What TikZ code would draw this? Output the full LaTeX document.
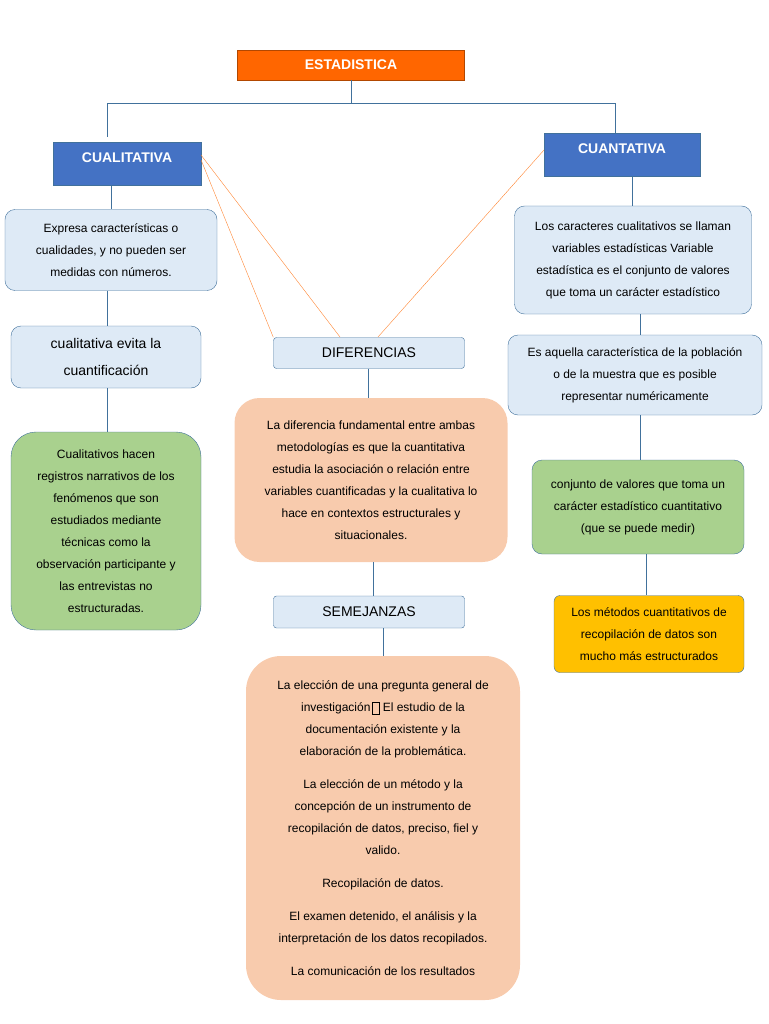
\documentclass[tikz,border=0pt]{standalone}
\usepackage{fontspec}
\setmainfont{Liberation Sans}
\usepackage{xcolor}
\definecolor{naranja}{HTML}{FF6600}
\definecolor{azul}{HTML}{4472C4}
\definecolor{celeste}{HTML}{DEEAF6}
\definecolor{verde}{HTML}{A9D18E}
\definecolor{durazno}{HTML}{F8CBAD}
\definecolor{amarillo}{HTML}{FFC000}
\definecolor{borde}{HTML}{41719C}
\tikzstyle{titulo}=[rectangle,draw=borde,fill=azul,text=white,font=\fontsize{14}{16}\selectfont\bfseries,inner sep=0pt]
\tikzstyle{caja}=[rectangle,rounded corners=10pt,draw=borde,fill=celeste,align=center,inner sep=0pt,font=\fontsize{12}{22}\selectfont]
\tikzstyle{conector}=[draw=borde,thin]

\begin{document}
\begin{tikzpicture}[x=1pt,y=-1pt]
  \useasboundingbox (0,0) rectangle (768,1024);
  \node at (351,65) [titulo,fill=naranja,draw=naranja!70!black,minimum width=227pt,minimum height=30pt] (Estadistica) {ESTADISTICA};
  \node at (127,158) [titulo,minimum width=148pt,minimum height=43pt,yshift=-6pt] (Cualitativa) {\raisebox{12pt}{CUALITATIVA}};
  \node at (622,155) [titulo,minimum width=156pt,minimum height=43pt] (Cuantativa) {\raisebox{12pt}{CUANTATIVA}};
  \node at (111,250) [caja,minimum width=212pt,minimum height=81pt] (Expresa) {Expresa características o\\cualidades, y no pueden ser\\medidas con números.};
  \node at (106,357) [caja,font=\fontsize{14}{27}\selectfont,minimum width=190pt,minimum height=62pt] (Evita) {cualitativa evita la\\cuantificación};
  \node at (106,531) [caja,fill=verde,rounded corners=25pt,minimum width=190pt,minimum height=198pt] (Hacen) {Cualitativos hacen\\registros narrativos de los\\fenómenos que son\\estudiados mediante\\técnicas como la\\observación participante y\\las entrevistas no\\estructuradas.};
  \node at (633,260) [caja,minimum width=237pt,minimum height=108pt] (Caracteres) {Los caracteres cualitativos se llaman\\variables estadísticas Variable\\estadística es el conjunto de valores\\que toma un carácter estadístico};
  \node at (635,375) [caja,minimum width=254pt,minimum height=80pt] (Aquella) {Es aquella característica de la población\\o de la muestra que es posible\\representar numéricamente};
  \node at (638,507) [caja,fill=verde,minimum width=212pt,minimum height=94pt] (Conjunto) {conjunto de valores que toma un\\carácter estadístico cuantitativo\\(que se puede medir)};
  \node at (649,634) [caja,fill=amarillo,rounded corners=6pt,minimum width=190pt,minimum height=77pt] (Metodos) {Los métodos cuantitativos de\\recopilación de datos son\\mucho más estructurados};
  \node at (369,353) [caja,rounded corners=3pt,font=\fontsize{14}{16}\selectfont,minimum width=191pt,minimum height=31pt] (Diferencias) {DIFERENCIAS};
  \node at (371,480) [caja,fill=durazno,draw=none,rounded corners=25pt,minimum width=273pt,minimum height=164pt] (Diferencia) {La diferencia fundamental entre ambas\\metodologías es que la cuantitativa\\estudia la asociación o relación entre\\variables cuantificadas y la cualitativa lo\\hace en contextos estructurales y\\situacionales.};
  \node at (369,612) [caja,rounded corners=3pt,font=\fontsize{14}{16}\selectfont,minimum width=191pt,minimum height=32pt] (Semejanzas) {SEMEJANZAS};
  \node at (383,828) [caja,fill=durazno,draw=none,rounded corners=35pt,minimum width=274pt,minimum height=344pt] (Eleccion) {La elección de una pregunta general de\\investigación\,\framebox[7pt]{\rule{0pt}{6pt}} El estudio de la\\documentación existente y la\\elaboración de la problemática.\\[11pt]La elección de un método y la\\concepción de un instrumento de\\recopilación de datos, preciso, fiel y\\valido.\\[11pt]Recopilación de datos.\\[11pt]El examen detenido, el análisis y la\\interpretación de los datos recopilados.\\[11pt]La comunicación de los resultados};
  \draw [conector] (Estadistica.south) -- ++(0,23) -| (107,137);
  \draw [conector] (Estadistica.south) ++(0,23) -| (Cuantativa.north -| 615,0);
  \draw [draw=naranja!80!white] (Cualitativa.north east) ++(0,18) -- (Diferencias.north west) ++(66,0);
  \draw [draw=naranja!80!white] (201,155) -- (340,337);
  \draw [draw=naranja!80!white] (544,150) -- (378,337);
  \draw [conector] (Cualitativa.south -| Expresa.north) -- (Expresa.north);
  \draw [conector] (Expresa.south -| 107,0) -- (Evita.north -| 107,0);
  \draw [conector] (Evita.south -| 107,0) -- (Hacen.north -| 107,0);
  \draw [conector] (Cuantativa.south -| 632,0) -- (Caracteres.north -| 632,0);
  \draw [conector] (Caracteres.south -| 640,0) -- (Aquella.north -| 640,0);
  \draw [conector] (Aquella.south -| 640,0) -- (Conjunto.north -| 640,0);
  \draw [conector] (Conjunto.south -| 646,0) -- (Metodos.north -| 646,0);
  \draw [conector] (Diferencias.south -| 368,0) -- (Diferencia.north -| 368,0);
  \draw [conector] (Diferencia.south -| 373,0) -- (Semejanzas.north -| 373,0);
  \draw [conector] (Semejanzas.south -| 383,0) -- (Eleccion.north -| 383,0);
\end{tikzpicture}
\end{document}
